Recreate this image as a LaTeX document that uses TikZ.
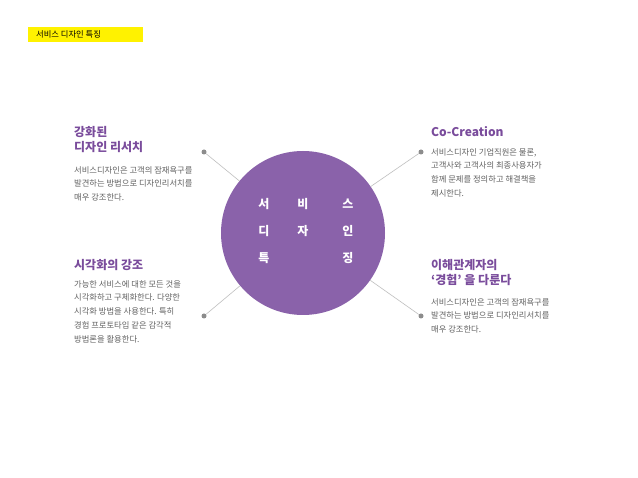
\documentclass[tikz,border=0pt]{standalone}
\usepackage{fontspec}
\newfontfamily\kr{Noto Sans CJK KR}
\definecolor{purp}{HTML}{8A62AA}
\definecolor{tpurp}{HTML}{7A4C9C}
\definecolor{yel}{HTML}{FFF200}
\begin{document}
\begin{tikzpicture}[x=1pt,y=-1pt,
  ttl/.style={anchor=north west,align=left,text=tpurp,font=\kr\bfseries\fontsize{12}{15.5}\selectfont,inner sep=0},
  body/.style={anchor=north west,align=left,text=black!62,font=\kr\fontsize{8.3}{13.8}\selectfont,inner sep=0},
  dot/.style={circle,fill=black!45,inner sep=0,minimum size=5pt},
  conn/.style={draw=black!25,line width=0.6pt},
  ctext/.style={text=white,font=\kr\bfseries\fontsize{12}{12}\selectfont}]
\useasboundingbox (0,0) rectangle (638,478);
\fill[white] (0,0) rectangle (638,478);
\node[fill=yel,minimum width=115pt,minimum height=15pt,anchor=north west,inner sep=0] (lab) at (28,27) {};
\node[anchor=west,font=\kr\fontsize{8.3}{9}\selectfont,inner sep=0] (labt) at (36,34.5) {서비스 디자인 특징};
\node[circle,fill=purp,minimum size=164pt,inner sep=0] (c) at (303,233) {};
\node[dot] (d1) at (204,152) {}; \node[dot] (d2) at (421,152) {};
\node[dot] (d3) at (204,316) {}; \node[dot] (d4) at (421,316) {};
\draw[conn] (d1) -- (c); \draw[conn] (d2) -- (c); \draw[conn] (d3) -- (c); \draw[conn] (d4) -- (c);
\node[ctext] (c1) at (264,204) {서}; \node[ctext] (c2) at (303,204) {비}; \node[ctext] (c3) at (348,204) {스};
\node[ctext] (c4) at (264,231) {디}; \node[ctext] (c5) at (303,231) {자}; \node[ctext] (c6) at (348,231) {인};
\node[ctext] (c7) at (264,258) {특}; \node[ctext] (c8) at (348,258) {징};
\node[ttl] (t1) at (74,126) {강화된\\디자인 리서치};
\node[body] (b1) at (74,166) {서비스디자인은 고객의 잠재욕구를\\발견하는 방법으로 디자인리서치를\\매우 강조한다.};
\node[ttl] (t2) at (431,126) {Co-Creation};
\node[body] (b2) at (431,148) {서비스디자인 기업직원은 물론,\\고객사와 고객사의 최종사용자가\\함께 문제를 정의하고 해결책을\\제시한다.};
\node[ttl] (t3) at (74,259) {시각화의 강조};
\node[body] (b3) at (74,280) {가능한 서비스에 대한 모든 것을\\시각화하고 구체화한다. 다양한\\시각화 방법을 사용한다. 특히\\경험 프로토타입 같은 감각적\\방법론을 활용한다.};
\node[ttl] (t4) at (431,259) {이해관계자의\\‘경험’ 을 다룬다};
\node[body] (b4) at (431,298) {서비스디자인은 고객의 잠재욕구를\\발견하는 방법으로 디자인리서치를\\매우 강조한다.};
\end{tikzpicture}
\end{document}
